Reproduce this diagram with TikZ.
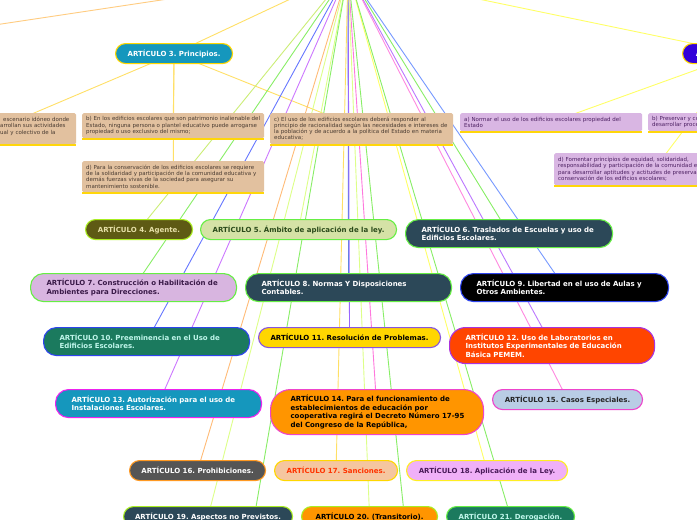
\documentclass[tikz,border=0pt]{standalone}
\usepackage{fontspec}
\setmainfont{DejaVu Sans}
\frenchspacing
\usetikzlibrary{backgrounds}
% sub-item colours
\definecolor{tanc}{HTML}{E2C19F}
\definecolor{tantext}{HTML}{4A3C32}
\definecolor{lilc}{HTML}{D9B6E3}
\definecolor{liltext}{HTML}{4D2163}
\definecolor{ulc}{HTML}{FFD60A}
% node colours
\definecolor{teal}{HTML}{1597BD}
\definecolor{violetblue}{HTML}{3300D9}
\definecolor{olive}{HTML}{5E5A14}
\definecolor{olivetext}{HTML}{E6E0A8}
\definecolor{palegreen}{HTML}{D5E2A6}
\definecolor{darkgreentext}{HTML}{2A4A1A}
\definecolor{slate}{HTML}{2C4858}
\definecolor{lilac}{HTML}{D8B5E0}
\definecolor{lilactext}{HTML}{3A1A48}
\definecolor{seagreen}{HTML}{1B7A5E}
\definecolor{seatext}{HTML}{BFF5EA}
\definecolor{gold}{HTML}{FFD600}
\definecolor{redorange}{HTML}{FF4500}
\definecolor{orangef}{HTML}{FF9500}
\definecolor{lightblue}{HTML}{B9CDE5}
\definecolor{darkgrey}{HTML}{555555}
\definecolor{peach}{HTML}{F5C6A0}
\definecolor{peachtext}{HTML}{FF3300}
\definecolor{pinkf}{HTML}{F0B0F8}
\definecolor{pinktext}{HTML}{4A1A5A}
% border colours
\definecolor{byellow}{HTML}{FFD700}
\definecolor{bygreen}{HTML}{AAEE22}
\definecolor{bgreen}{HTML}{66EE44}
\definecolor{bblue}{HTML}{2E44EE}
\definecolor{bpurple}{HTML}{8855DD}
\definecolor{bviolet}{HTML}{AA33DD}
\definecolor{bmagenta}{HTML}{EE22EE}
\definecolor{bpink}{HTML}{EE44CC}
\definecolor{borange}{HTML}{FF9922}
\definecolor{byellow2}{HTML}{FFEE22}
% connector colours
\definecolor{lorange}{HTML}{FFCC80}
\definecolor{lyellow}{HTML}{FFE066}
\definecolor{lyellow2}{HTML}{FFFF66}
\definecolor{lygreen}{HTML}{CCEE77}
\definecolor{lygreen2}{HTML}{DDFF88}
\definecolor{lgreen}{HTML}{88EE66}
\definecolor{lblue}{HTML}{6677FF}
\definecolor{lblue2}{HTML}{7799FF}
\definecolor{lsteel}{HTML}{5588DD}
\definecolor{lviolet}{HTML}{CC77FF}
\definecolor{lviolet2}{HTML}{BB77FF}
\definecolor{lpurple}{HTML}{9966FF}
\definecolor{lpink}{HTML}{FF88E0}
\definecolor{lmagenta}{HTML}{FF77DD}
\definecolor{lpeach}{HTML}{FFBB77}
\begin{document}
\begin{tikzpicture}[x=1pt,y=-1pt,
  artbase/.style={anchor=north west, line width=1.1pt, font=\fontsize{7}{8.4}\selectfont\bfseries, inner ysep=0pt},
  art/.style={artbase, rounded corners=10pt, align=center, inner xsep=4pt, minimum height=20pt},
  artm/.style={artbase, rounded corners=13pt, align=left, inner xsep=16pt},
  sub/.style={anchor=north west, rounded corners=1.5pt, inner xsep=4pt, inner ysep=0pt, align=left, font=\fontsize{5.5}{6.25}\selectfont},
  tanbox/.style={sub, fill=tanc, text=tantext},
  lilbox/.style={sub, fill=lilc, text=liltext},
  ul/.style={draw=ulc, line width=2pt},
  conn/.style={line width=0.9pt},
]
\useasboundingbox (0,0) rectangle (697,520);
\clip (0,0) rectangle (697,520);

\coordinate (root) at (348,-28);
\coordinate (art1) at (-192,53);
\coordinate (offA) at (240,600);
\coordinate (offB) at (413,600);

% level 1 nodes
\node[art, minimum width=117pt, fill=teal, draw=byellow, text=white] (art3) at (115,43) {ARTÍCULO 3. Principios.};
\node[art, minimum width=118pt, fill=violetblue, draw=byellow, text=white] (art2) at (682,43) {ARTÍCULO 2. Objetivos.};

% sub items of article 3
\node[tanbox, text width=150pt, minimum height=31pt] (s3a) at (-82,113)
 {\mbox{\hspace*{81pt}escenario idóneo donde}\\\mbox{\hspace*{78pt}arrollan sus actividades}\\\mbox{\hspace*{78pt}ual y colectivo de la}\\\mbox{}};
\node[tanbox, text width=174pt, minimum height=25pt] (s3b) at (82,113)
 {\mbox{b) En los edificios escolares que son patrimonio inalienable del}\\\mbox{Estado, ninguna persona o plantel educativo puede arrogarse}\\\mbox{propiedad o uso exclusivo del mismo;}};
\node[tanbox, text width=175pt, minimum height=31pt] (s3c) at (270,113)
 {\mbox{c) El uso de los edificios escolares deberá responder al}\\\mbox{principio de racionalidad según las necesidades e intereses de}\\\mbox{la población y de acuerdo a la política del Estado en materia}\\\mbox{educativa;}};
\node[tanbox, text width=174pt, minimum height=31pt] (s3d) at (82,161)
 {\mbox{d) Para la conservación de los edificios escolares se requiere}\\\mbox{de la solidaridad y participación de la comunidad educativa y}\\\mbox{demás fuerzas vivas de la sociedad para asegurar su}\\\mbox{mantenimiento sostenible.}};

% sub items of article 2
\node[lilbox, text width=174pt, minimum height=18pt] (s2a) at (460,113)
 {\mbox{a) Normar el uso de los edificios escolares propiedad del}\\\mbox{Estado}};
\node[lilbox, text width=174pt, minimum height=18pt] (s2b) at (648,113)
 {\mbox{b) Preservar y conservar los edificios escolares para}\\\mbox{desarrollar procesos educativos;}};
\node[lilbox, text width=192pt, minimum height=32pt] (s2d) at (554,153)
 {\mbox{d) Fomentar principios de equidad, solidaridad,}\\\mbox{responsabilidad y participación de la comunidad educativa}\\\mbox{para desarrollar aptitudes y actitudes de preservación y}\\\mbox{conservación de los edificios escolares;}};

\foreach \s in {s3a,s3b,s3c,s3d,s2a,s2b,s2d}
  \draw[ul] ([yshift=-0.5pt]\s.south west) -- ([yshift=-0.5pt]\s.south east);

% articles
\node[art, minimum width=107pt, fill=olive, draw=bygreen, text=olivetext] (art4) at (85,219) {ARTÍCULO 4. Agente.};
\node[art, minimum width=196pt, fill=palegreen, draw=bgreen, text=darkgreentext] (art5) at (200,219) {ARTÍCULO 5. Ámbito de aplicación de la ley.};
\node[artm, text width=175pt, minimum height=28pt, fill=slate, draw=bgreen, text=white] (art6) at (405,219)
 {\mbox{ARTÍCULO 6. Traslados de Escuelas y uso de}\\\mbox{Edificios Escolares.}};
\node[artm, text width=174pt, minimum height=28pt, fill=lilac, draw=bgreen, text=lilactext] (art7) at (30,273)
 {\mbox{ARTÍCULO 7. Construcción o Habilitación de}\\\mbox{Ambientes para Direcciones.}};
\node[artm, text width=174pt, minimum height=28pt, fill=slate, draw=bgreen, text=white] (art8) at (245,273)
 {\mbox{ARTÍCULO 8. Normas Y Disposiciones}\\\mbox{Contables.}};
\node[artm, text width=176pt, minimum height=28pt, fill=black, draw=bblue, text=white] (art9) at (460,273)
 {\mbox{ARTÍCULO 9. Libertad en el uso de Aulas y}\\\mbox{Otros Ambientes.}};
\node[artm, text width=174pt, minimum height=28pt, fill=seagreen, draw=bblue, text=seatext] (art10) at (43,327)
 {\mbox{ARTÍCULO 10. Preeminencia en el Uso de}\\\mbox{Edificios Escolares.}};
\node[art, minimum width=182pt, fill=gold, draw=bpurple, text=black] (art11) at (258,327) {ARTÍCULO 11. Resolución de Problemas.};
\node[artm, rounded corners=16pt, text width=173pt, minimum height=36pt, fill=redorange, draw=bviolet, text=white] (art12) at (449,327)
 {\mbox{ARTÍCULO 12. Uso de Laboratorios en}\\\mbox{Institutos Experimentales de Educación}\\\mbox{Básica PEMEM.}};
\node[artm, text width=174pt, minimum height=28pt, fill=teal, draw=bmagenta, text=white] (art13) at (55,389)
 {\mbox{ARTÍCULO 13. Autorización para el uso de}\\\mbox{Instalaciones Escolares.}};
\node[artm, rounded corners=20pt, inner xsep=20pt, text width=173pt, minimum height=45pt, fill=orangef, draw=bpink, text=black] (art14) at (270,389)
 {\mbox{ARTÍCULO 14. Para el funcionamiento de}\\\mbox{establecimientos de educación por}\\\mbox{cooperativa regirá el Decreto Número 17-95}\\\mbox{del Congreso de la República,}};
\node[art, minimum width=150pt, fill=lightblue, draw=bpink, text=black!85] (art15) at (492,389) {ARTÍCULO 15. Casos Especiales.};
\node[art, minimum width=136pt, fill=darkgrey, draw=borange, text=white] (art16) at (129,460) {ARTÍCULO 16. Prohibiciones.};
\node[art, minimum width=123pt, fill=peach, draw=byellow, text=peachtext] (art17) at (274,460) {ARTÍCULO 17. Sanciones.};
\node[art, minimum width=161pt, fill=pinkf, draw=byellow2, text=pinktext] (art18) at (406,460) {ARTÍCULO 18. Aplicación de la Ley.};
\node[art, minimum width=169pt, fill=slate, draw=bygreen, text=white] (art19) at (123,506) {ARTÍCULO 19. Aspectos no Previstos.};
\node[art, minimum width=136pt, fill=orangef, draw=bygreen, text=black] (art20) at (301,506) {ARTÍCULO 20. (Transitorio).};
\node[art, minimum width=128pt, fill=seagreen, draw=bgreen, text=seatext] (art21) at (446,506) {ARTÍCULO 21. Derogación.};

% connectors
\begin{pgfonlayer}{background}
\clip (0,0) rectangle (697,520);
\fill[white] (0,0) rectangle (697,520);
\draw[conn, lorange] (root) -- (art1);
\draw[conn, lyellow] (root) -- (art3.center);
\draw[conn, lyellow2] (root) -- (art2.center);
\draw[conn, lyellow] (art3.center) -- (s3a.center);
\draw[conn, lyellow] (art3.center) -- (s3b.center);
\draw[conn, lyellow] (art3.center) -- (s3c.center);
\draw[conn, lyellow] (art3.center) -- (s3d.center);
\draw[conn, lyellow2] (art2.center) -- (s2a.center);
\draw[conn, lyellow2] (art2.center) -- (s2b.center);
\draw[conn, lyellow2] (art2.center) -- (s2d.center);
\draw[conn, lygreen] (root) -- (art4.center);
\draw[conn, lygreen2] (root) -- (art5.center);
\draw[conn, lgreen] (root) -- (art6.center);
\draw[conn, lgreen] (root) -- (art7.center);
\draw[conn, lsteel] (root) -- (art8.center);
\draw[conn, lblue2] (root) -- (art9.center);
\draw[conn, lblue] (root) -- (art10.center);
\draw[conn, lpurple] (root) -- (art11.center);
\draw[conn, lviolet2] (root) -- (art12.center);
\draw[conn, lviolet] (root) -- (art13.center);
\draw[conn, lmagenta] (root) -- (art14.center);
\draw[conn, lpink] (root) -- (art15.center);
\draw[conn, lpeach] (root) -- (art16.center);
\draw[conn, lyellow] (root) -- (art17.center);
\draw[conn, lyellow2] (root) -- (art18.center);
\draw[conn, lygreen2] (root) -- (art19.center);
\draw[conn, lygreen2] (root) -- (art20.center);
\draw[conn, lgreen] (root) -- (art21.center);
\draw[conn, lgreen] (root) -- (offA);
\draw[conn, lgreen] (root) -- (offB);
\end{pgfonlayer}
\end{tikzpicture}
\end{document}
